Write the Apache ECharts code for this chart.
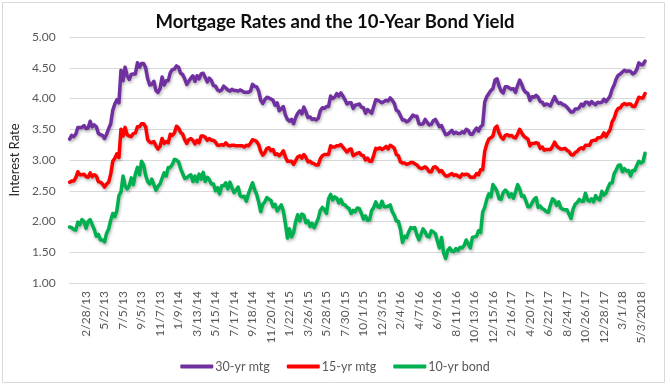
<!DOCTYPE html>
<html>
<head>
<meta charset="utf-8">
<script src="https://cdn.jsdelivr.net/npm/echarts@6/dist/echarts.min.js"></script>
<style>html,body{margin:0;padding:0;background:#fff}#c{width:670px;height:386px}</style>
</head>
<body>
<div id="c"></div>
<script>
// Weekly observations, first week 1/3/2013, last week 5/17/2018
const startDate = [2013, 0, 3];
const tickLabels = ['2/28/13','5/2/13','7/5/13','9/5/13','11/7/13','1/9/14','3/13/14','5/15/14','7/17/14','9/18/14','11/20/14','1/22/15','3/26/15','5/28/15','7/30/15','10/1/15','12/3/15','2/4/16','4/7/16','6/9/16','8/11/16','10/13/16','12/15/16','2/16/17','4/20/17','6/22/17','8/24/17','10/26/17','12/28/17','3/1/18','5/3/2018'];
const labelStart = 8, labelStep = 9;

const mtg30 = [
 3.34,3.40,3.38,3.42,3.53, 3.53,3.53,3.56,3.51, 3.52,3.63,3.54,3.57, 3.54,3.43,3.41,3.40, 3.35,3.42,3.51,3.59,3.81, 3.91,3.98,3.93,4.46, 4.29,4.51,4.37,4.31, 4.39,4.40,4.40,4.58,4.51, 4.57,4.57,4.50,4.32, 4.22,4.23,4.28,4.13,4.10, 4.16,4.35,4.22,4.29, 4.29,4.42,4.47,4.48,
 4.53,4.51,4.41,4.39,4.32, 4.23,4.28,4.33,4.37, 4.28,4.37,4.32,4.40, 4.41,4.34,4.27,4.33, 4.29,4.21,4.20,4.14,4.12, 4.14,4.20,4.17,4.14, 4.12,4.15,4.13,4.13,4.12, 4.14,4.12,4.10,4.10, 4.10,4.12,4.23,4.20, 4.19,4.12,3.97,3.92,3.98, 4.02,4.01,3.99,3.97, 3.89,3.93,3.80,3.83,3.87,
 3.73,3.66,3.63,3.66, 3.59,3.69,3.76,3.80, 3.75,3.86,3.78,3.69, 3.70,3.66,3.67,3.65,3.68, 3.80,3.85,3.84,3.87, 3.87,4.04,4.00,4.02, 4.08,4.04,4.09,4.04,3.98, 3.91,3.93,3.93,3.84, 3.89,3.90,3.91,3.86, 3.85,3.76,3.82,3.79,3.76, 3.87,3.98,3.97,3.95, 3.93,3.95,3.97,3.96,4.01,
 3.97,3.92,3.81,3.79, 3.72,3.65,3.65,3.62, 3.64,3.68,3.73,3.71,3.71, 3.59,3.58,3.59,3.66, 3.61,3.57,3.58,3.64, 3.66,3.60,3.54,3.56,3.48, 3.41,3.42,3.45,3.48, 3.43,3.45,3.43,3.43, 3.46,3.44,3.50,3.48,3.42, 3.42,3.47,3.52,3.47, 3.54,3.57,3.94,4.03, 4.08,4.13,4.16,4.30,4.32,
 4.20,4.12,4.09,4.19, 4.19,4.17,4.15,4.16, 4.10,4.21,4.30,4.23,4.14, 4.10,4.08,3.97,4.03, 4.02,4.05,4.02,3.95, 3.94,3.89,3.91,3.90,3.88, 3.96,4.03,3.96,3.92, 3.93,3.90,3.89,3.86,3.82, 3.78,3.78,3.83,3.83, 3.85,3.91,3.88,3.94, 3.94,3.90,3.95,3.92,3.90, 3.94,3.93,3.94,3.99,
 3.95,3.99,4.04,4.15, 4.22,4.32,4.38,4.40, 4.43,4.46,4.44,4.45,4.44, 4.40,4.42,4.47,4.58, 4.55,4.55,4.61
];
const mtg15 = [
 2.64,2.66,2.66,2.71,2.81, 2.76,2.76,2.77,2.73, 2.72,2.79,2.73,2.76, 2.74,2.65,2.64,2.61, 2.56,2.61,2.64,2.77,2.98, 3.03,3.10,3.04,3.50, 3.39,3.53,3.41,3.39, 3.38,3.43,3.44,3.54,3.54, 3.59,3.59,3.54,3.33, 3.29,3.28,3.30,3.23,3.18, 3.22,3.35,3.27,3.30, 3.28,3.42,3.40,3.44,
 3.55,3.52,3.45,3.42,3.33, 3.27,3.33,3.35,3.32, 3.26,3.32,3.28,3.39, 3.39,3.37,3.32,3.35, 3.32,3.32,3.29,3.24,3.24, 3.25,3.24,3.28,3.24, 3.23,3.24,3.24,3.23,3.23, 3.23,3.23,3.21,3.24, 3.23,3.27,3.33,3.32, 3.30,3.25,3.14,3.08,3.12, 3.19,3.20,3.15,3.17, 3.09,3.10,3.07,3.10,3.15,
 3.05,2.98,2.98,2.98, 2.93,2.99,3.05,3.07, 3.03,3.09,3.04,2.97, 2.98,2.95,2.94,2.92,2.92, 3.02,3.07,3.09,3.09, 3.09,3.23,3.21,3.21, 3.23,3.23,3.25,3.21,3.17, 3.13,3.17,3.18,3.07, 3.09,3.11,3.12,3.08, 3.07,3.00,3.03,2.98,2.98, 3.08,3.19,3.18,3.20, 3.17,3.19,3.22,3.18,3.24,
 3.22,3.19,3.09,3.07, 2.97,2.95,2.95,2.93, 2.94,2.96,2.96,2.94,2.92, 2.88,2.86,2.87,2.89, 2.86,2.81,2.81,2.88, 2.89,2.86,2.81,2.83,2.78, 2.74,2.74,2.76,2.78, 2.75,2.76,2.74,2.72, 2.77,2.76,2.77,2.76,2.72, 2.72,2.72,2.78,2.76, 2.84,2.84,3.14,3.26, 3.34,3.36,3.39,3.52,3.55,
 3.44,3.37,3.34,3.40, 3.41,3.39,3.40,3.37, 3.36,3.42,3.50,3.44,3.39, 3.36,3.34,3.23,3.27, 3.27,3.28,3.27,3.19, 3.21,3.16,3.17,3.17,3.17, 3.22,3.29,3.23,3.20, 3.18,3.18,3.19,3.16,3.14, 3.09,3.08,3.12,3.14, 3.18,3.20,3.18,3.24, 3.24,3.24,3.31,3.32,3.32, 3.36,3.36,3.38,3.44,
 3.38,3.44,3.49,3.62, 3.68,3.79,3.84,3.85, 3.90,3.92,3.90,3.91,3.91, 3.87,3.87,3.94,4.02, 4.01,4.01,4.08
];
const bond10 = [
 1.91,1.90,1.87,1.86,1.99, 1.95,2.03,2.00,1.89, 2.00,2.03,1.95,1.87, 1.76,1.79,1.70,1.70, 1.67,1.81,1.88,2.02,2.13, 2.08,2.18,2.42,2.48, 2.74,2.58,2.53,2.58, 2.71,2.60,2.77,2.88,2.76, 2.98,2.92,2.75,2.65, 2.61,2.69,2.60,2.51,2.57, 2.61,2.70,2.79,2.74, 2.88,2.88,2.93,3.01,
 3.00,2.97,2.86,2.78,2.70, 2.71,2.74,2.76,2.65, 2.74,2.65,2.77,2.69, 2.80,2.65,2.72,2.68, 2.61,2.61,2.50,2.55,2.45, 2.58,2.58,2.63,2.53, 2.64,2.55,2.47,2.51,2.56, 2.42,2.40,2.41,2.33, 2.45,2.54,2.63,2.52, 2.44,2.32,2.16,2.28,2.32, 2.39,2.36,2.34,2.24, 2.28,2.17,2.22,2.27,2.17,
 1.97,1.73,1.88,1.75, 1.82,2.00,2.11,2.01, 2.12,2.10,1.98,2.01, 1.92,1.97,1.90,1.97,2.05, 2.18,2.23,2.19,2.13, 2.37,2.44,2.35,2.40, 2.38,2.30,2.36,2.28,2.27, 2.23,2.21,2.13,2.18, 2.16,2.22,2.21,2.13, 2.04,2.09,2.02,2.03,2.18, 2.23,2.32,2.24,2.23, 2.33,2.24,2.24,2.25,2.27,
 2.16,2.10,2.01,2.00, 1.87,1.66,1.76,1.74, 1.83,1.90,1.89,1.90,1.78, 1.70,1.79,1.88,1.83, 1.76,1.75,1.85,1.83, 1.80,1.68,1.57,1.74,1.49, 1.40,1.53,1.57,1.52, 1.51,1.56,1.53,1.58, 1.57,1.61,1.70,1.63,1.57, 1.74,1.75,1.76,1.85, 1.82,2.15,2.23,2.36, 2.45,2.40,2.60,2.55,2.49,
 2.37,2.36,2.47,2.51, 2.48,2.40,2.45,2.38, 2.48,2.60,2.53,2.41,2.42, 2.34,2.24,2.24,2.30, 2.36,2.39,2.23,2.25, 2.21,2.19,2.16,2.15,2.27, 2.37,2.34,2.26,2.32, 2.22,2.20,2.19,2.19,2.12, 2.05,2.20,2.28,2.31, 2.36,2.33,2.33,2.46, 2.35,2.33,2.37,2.32,2.42, 2.37,2.35,2.49,2.43,
 2.46,2.55,2.62,2.63, 2.78,2.84,2.91,2.92, 2.81,2.86,2.82,2.83,2.74, 2.83,2.83,2.91,2.98, 2.95,2.97,3.11
];

const categories = [];
{
  const d = new Date(startDate[0], startDate[1], startDate[2]);
  for (let i = 0; i < mtg30.length; i++) {
    categories.push((d.getMonth() + 1) + '/' + d.getDate() + '/' + String(d.getFullYear()).slice(2));
    d.setDate(d.getDate() + 7);
  }
}

const FONT = 'Lato, "Liberation Sans", sans-serif';
const chart = echarts.init(document.getElementById('c'), null, {renderer: 'canvas'});
const shadow = {shadowColor: 'rgba(0,0,0,0.28)', shadowBlur: 3, shadowOffsetX: 1, shadowOffsetY: 2};
function mk(name, data, color) {
  return {
    name, type: 'line', data, showSymbol: false, symbol: 'none', smooth: false,
    lineStyle: Object.assign({color, width: 3.5, cap: 'round', join: 'round'}, shadow),
    itemStyle: {color}, animation: false
  };
}
chart.setOption({
  animation: false,
  backgroundColor: '#fff',
  textStyle: {fontFamily: FONT},
  title: {
    text: 'Mortgage Rates and the 10-Year Bond Yield',
    left: 'center', top: 8,
    textStyle: {fontFamily: FONT, fontSize: 18.5, fontWeight: 'bold', color: '#0d0d0d'}
  },
  graphic: [{
    type: 'rect', shape: {x: 2.5, y: 2.5, width: 662, height: 380},
    style: {fill: 'none', stroke: '#D9D9D9', lineWidth: 1}, silent: true, z: -1
  }],
  legend: {
    data: ['30-yr mtg', '15-yr mtg', '10-yr bond'],
    left: 'center', top: 355,
    icon: 'roundRect', itemWidth: 33, itemHeight: 4, itemGap: 17,
    textStyle: {fontFamily: FONT, fontSize: 12.5, color: '#595959', padding: [0, 0, 0, -3]}
  },
  grid: {left: 67, right: 25, top: 37, bottom: 103, containLabel: false},
  xAxis: {
    type: 'category', data: categories, boundaryGap: false,
    axisLine: {lineStyle: {color: '#D9D9D9', width: 1}},
    axisTick: {show: false},
    splitLine: {show: false},
    axisLabel: {
      rotate: 90, fontSize: 12, color: '#595959', margin: 8, fontFamily: FONT,
      interval: (idx) => idx >= labelStart && (idx - labelStart) % labelStep === 0,
      formatter: (val, idx) => {
        if (idx >= labelStart && (idx - labelStart) % labelStep === 0) {
          return tickLabels[(idx - labelStart) / labelStep] || '';
        }
        return '';
      }
    }
  },
  yAxis: {
    type: 'value', min: 1, max: 5, interval: 0.5,
    name: 'Interest Rate', nameLocation: 'middle', nameGap: 44, nameRotate: 90,
    nameTextStyle: {fontFamily: FONT, fontSize: 13, color: '#262626'},
    axisLine: {show: false}, axisTick: {show: false},
    axisLabel: {fontSize: 12, color: '#595959', margin: 14, fontFamily: FONT, formatter: (v) => v.toFixed(2)},
    splitLine: {lineStyle: {color: '#D9D9D9', width: 1}}
  },
  series: [
    mk('30-yr mtg', mtg30, '#7030A0'),
    mk('15-yr mtg', mtg15, '#FF0000'),
    mk('10-yr bond', bond10, '#00B050')
  ]
});
</script>
</body>
</html>
